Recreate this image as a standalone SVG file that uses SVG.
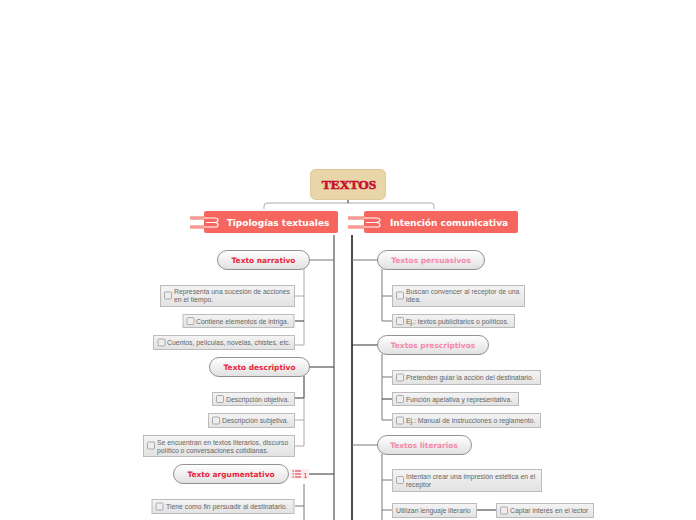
<svg xmlns="http://www.w3.org/2000/svg" width="696" height="520" viewBox="0 0 696 520">
<style>
.t{font-family:"Liberation Sans",Arial,sans-serif;font-size:6.850px;fill:#666}
.s{font-family:"DejaVu Sans",sans-serif;font-size:7.450px;font-weight:bold;fill:#e8263a;text-anchor:middle}
.p{fill:#f687ab}
.m{font-family:"DejaVu Sans",sans-serif;font-size:9px;font-weight:bold;fill:#fff;text-anchor:middle}
.b{fill:url(#g);stroke:#bbb;stroke-width:1}
.c{fill:#eee;stroke:#999;stroke-width:.8}
.o{fill:url(#g2);stroke:#777;stroke-width:.8}
.l{fill:none;stroke:#777;stroke-width:1}
.lg{fill:none;stroke:#aaa;stroke-width:1}
.d{fill:none;stroke:#333;stroke-width:1}
.r{fill:#f6665e}
.w{fill:none;stroke:#fff;stroke-width:1.200}
.tb{fill:none;stroke:#f6665e;stroke-width:3}
.tc{fill:none;stroke:#fbd0cc;stroke-width:1}
</style>
<defs>
<linearGradient id="g" x1="0" y1="0" x2="0" y2="1"><stop offset="0" stop-color="#f4f4f4"/><stop offset="1" stop-color="#e2e2e2"/></linearGradient>
<linearGradient id="g2" x1="0" y1="0" x2="0" y2="1"><stop offset="0" stop-color="#fff"/><stop offset="1" stop-color="#e0e0e0"/></linearGradient>
</defs>
<g id="connectors">
<path class="lg" d="M264 209V206Q264 203 267 203H431Q434 203 434 206V209"/>
<path class="d" d="M348 199V203"/>
<path class="d" d="M334 235V520"/>
<path d="M352 235V520" fill="none" stroke="#111" stroke-width="1.500"/>
<path class="l" d="M309 260H334" stroke-width="1.500"/>
<path class="d" d="M309 367H334M309 474H334"/>
<path class="lg" d="M304 269V345H295M304 296H295"/>
<path class="d" d="M304 321H295"/>
<path class="d" d="M304 376V398H295"/>
<path class="lg" d="M304 398V446H295M304 420H295"/>
<path class="l" d="M304 484V520M304 506H295"/>
<path class="l" d="M352 260H378" stroke-width="1.500"/>
<path class="d" d="M352 345H378"/>
<path class="l" d="M352 445H378" stroke-width="1.500"/>
<path class="l" d="M382 269V321H392M382 296H392"/>
<path class="l" d="M382 354V420H392M382 377H392"/>
<path class="d" d="M382 399H392"/>
<path class="l" d="M382 454V520M382 480H392M382 510H392"/>
<path class="d" d="M477 510H497"/>
</g>
<g id="root">
<rect x="310.500" y="169.500" width="75" height="30" rx="5" fill="#e8d5a8" stroke="#dfc999"/>
<text x="349" y="188.500" text-anchor="middle" style="font-family:'Liberation Serif',serif;font-size:13.500px;font-weight:bold;fill:#c8102e;stroke:#c8102e;stroke-width:.6">TEXTOS</text>
</g>
<g id="n-tipologias">
<rect class="r" x="204" y="211" width="134" height="22" rx="2"/>
<path class="tb" d="M190 218H204M190 227H204"/>
<path class="tc" d="M190 218H204M190 227H204"/>
<path class="w" d="M204 218H215Q218 218 218 220T215 222.500H206M215 222.500Q218 222.500 218 225T215 227H204"/>
<text class="m" x="278" y="226">Tipologías textuales</text>
</g>
<g id="n-intencion">
<rect class="r" x="364" y="211" width="154" height="22" rx="2"/>
<path class="tb" d="M348 218H364M348 227H364"/>
<path class="tc" d="M348 218H364M348 227H364"/>
<path class="w" d="M364 218H376Q380 218 380 220T376 222.500H366M376 222.500Q380 222.500 380 225T376 227H364"/>
<text class="m" x="449" y="226">Intención comunicativa</text>
</g>
<g id="n-narrativo"><rect class="o" x="217.500" y="250.500" width="92" height="19" rx="9.500"/><text class="s" x="263.500" y="263">Texto narrativo</text></g>
<g id="n-n1"><rect class="b" x="160.500" y="285.500" width="134" height="21"/><rect class="c" x="164.500" y="292" width="7" height="7" rx="1"/><text class="t" x="174" y="294">Representa una sucesión de acciones</text><text class="t" x="174" y="302">en el tiempo.</text></g>
<g id="n-n2"><rect class="b" x="183" y="314.500" width="111" height="13"/><rect class="c" x="187" y="317.500" width="7" height="7" rx="1"/><text class="t" x="196" y="324">Contiene elementos de intriga.</text></g>
<g id="n-n3"><rect class="b" x="153.500" y="335.500" width="141" height="14"/><rect class="c" x="158" y="339" width="7" height="7" rx="1"/><text class="t" x="167" y="345">Cuentos, películas, novelas, chistes, etc.</text></g>
<g id="n-descriptivo"><rect class="o" x="209.500" y="357.500" width="100" height="19" rx="9.500"/><text class="s" x="259.500" y="370">Texto descriptivo</text></g>
<g id="n-d1"><rect class="b" x="212.500" y="392.500" width="82" height="13"/><rect class="c" x="216.500" y="395.500" width="7" height="7" rx="1"/><text class="t" x="226" y="402">Descripción objetiva.</text></g>
<g id="n-d2"><rect class="b" x="208.500" y="413.500" width="86" height="14"/><rect class="c" x="212.500" y="417" width="7" height="7" rx="1"/><text class="t" x="222" y="423">Descripción subjetiva.</text></g>
<g id="n-d3"><rect class="b" x="143.500" y="435.500" width="151" height="21"/><rect class="c" x="147.500" y="442" width="7" height="7" rx="1"/><text class="t" x="157" y="445">Se encuentran en textos literarios, discurso</text><text class="t" x="157" y="453">político o conversaciones cotidianas.</text></g>
<g id="n-argumentativo"><rect class="o" x="173.500" y="464.500" width="115" height="19" rx="9.500"/><text class="s" x="231" y="477">Texto argumentativo</text>
<rect x="290" y="469" width="19" height="10" fill="#fbeeee"/><path d="M295 471H301M295 474H301M295 477H301M292.500 471H294M292.500 474H294M292.500 477H294" stroke="#e8263a" stroke-width="1" fill="none"/><text x="303.500" y="477.500" style="font-family:'Liberation Sans',sans-serif;font-size:7px;fill:#e8263a">1</text></g>
<g id="n-a1"><rect class="b" x="152" y="499.500" width="142" height="14"/><rect class="c" x="156" y="503" width="7" height="7" rx="1"/><text class="t" x="166" y="509">Tiene como fin persuadir al destinatario.</text></g>
<g id="n-persuasivos"><rect class="o" x="377.500" y="250.500" width="107" height="19" rx="9.500"/><text class="s p" x="431" y="263">Textos persuasivos</text></g>
<g id="n-p1"><rect class="b" x="392.500" y="285.500" width="132" height="21"/><rect class="c" x="396.500" y="292" width="7" height="7" rx="1"/><text class="t" x="406" y="294">Buscan convencer al receptor de una</text><text class="t" x="406" y="302">idea.</text></g>
<g id="n-p2"><rect class="b" x="392.500" y="314.500" width="122" height="13"/><rect class="c" x="396.500" y="317.500" width="7" height="7" rx="1"/><text class="t" x="406" y="324">Ej.: textos publicitarios o políticos.</text></g>
<g id="n-prescriptivos"><rect class="o" x="377.500" y="335.500" width="111" height="19" rx="9.500"/><text class="s p" x="433" y="348">Textos prescriptivos</text></g>
<g id="n-r1"><rect class="b" x="392.500" y="370.500" width="148" height="14"/><rect class="c" x="396.500" y="374" width="7" height="7" rx="1"/><text class="t" x="406" y="380">Pretenden guiar la acción del destinatario.</text></g>
<g id="n-r2"><rect class="b" x="392.500" y="392.500" width="126" height="13"/><rect class="c" x="396.500" y="395.500" width="7" height="7" rx="1"/><text class="t" x="406" y="402">Función apelativa y representativa.</text></g>
<g id="n-r3"><rect class="b" x="392.500" y="413.500" width="148" height="14"/><rect class="c" x="396.500" y="417" width="7" height="7" rx="1"/><text class="t" x="406" y="423">Ej.: Manual de instrucciones o reglamento.</text></g>
<g id="n-literarios"><rect class="o" x="377.500" y="435.500" width="94" height="19" rx="9.500"/><text class="s p" x="424" y="448">Textos literarios</text></g>
<g id="n-l1"><rect class="b" x="392.500" y="469.500" width="149" height="22"/><rect class="c" x="396.500" y="476.500" width="7" height="7" rx="1"/><text class="t" x="406" y="479">Intentan crear una impresión estética en el</text><text class="t" x="406" y="487">receptor</text></g>
<g id="n-l2"><rect class="b" x="392.500" y="503.500" width="84" height="14"/><text class="t" x="396" y="513">Utilizan lenguaje literario</text></g>
<g id="n-l3"><rect class="b" x="496.500" y="503.500" width="97" height="14"/><rect class="c" x="500.500" y="507" width="7" height="7" rx="1"/><text class="t" x="510" y="513">Captar interés en el lector</text></g>
</svg>
